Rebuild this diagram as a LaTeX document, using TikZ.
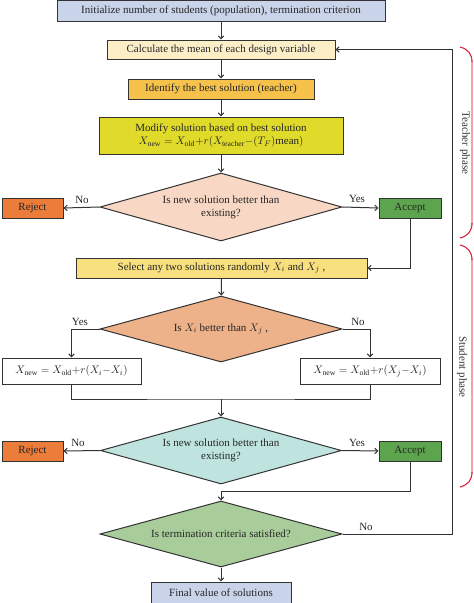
\documentclass[tikz,border=0pt]{standalone}
\usepackage{amsmath}
\usepackage{fontspec}
\setmainfont{Liberation Serif}
\usetikzlibrary{shapes.geometric,arrows.meta}
\definecolor{cinit}{HTML}{C9D4EA}
\definecolor{ccalc}{HTML}{FCEFC8}
\definecolor{cident}{HTML}{F6C24C}
\definecolor{cmod}{HTML}{E0DB2A}
\definecolor{cdone}{HTML}{F8D8C4}
\definecolor{creject}{HTML}{EC7C3A}
\definecolor{caccept}{HTML}{5DA44E}
\definecolor{csel}{HTML}{F9E07E}
\definecolor{cdtwo}{HTML}{EEB28B}
\definecolor{cdthree}{HTML}{BFE4E0}
\definecolor{cdfour}{HTML}{A9CD9A}
\definecolor{cline}{HTML}{333333}
\definecolor{cbrace}{HTML}{D9263F}
\definecolor{cbracel}{HTML}{F3A3B0}
\tikzset{
  box/.style={draw=cline, line width=1pt, inner sep=0pt, font=\fontsize{11}{12}\selectfont, text=black!85},
  dec/.style={diamond, draw=cline, line width=1pt, inner sep=0pt, aspect=3.6, align=center, font=\fontsize{11}{13}\selectfont, text=black!85},
  conn/.style={draw=cline, line width=1pt},
  arr/.style={conn, -{Straight Barb[length=3pt,width=5.5pt]}},
  lbl/.style={font=\fontsize{11}{12}\selectfont, text=black!85, inner sep=0pt},
  phase/.style={font=\fontsize{11}{12}\selectfont, text=black!80, rotate=-90, inner sep=0pt},
  bracecurl/.style={draw=cbrace, line width=1.1pt},
  braceline/.style={draw=cbracel, line width=1.1pt}
}
\begin{document}
\begin{tikzpicture}[x=1pt,y=-1pt]
\useasboundingbox (0,0) rectangle (474,603);
\node[box, fill=cinit, minimum width=328pt, minimum height=20.5pt] (init) at (221,10.75) {Initialize number of students (population), termination criterion};
\node[box, fill=ccalc, minimum width=228pt, minimum height=19pt] (calc) at (221,49.5) {Calculate the mean of each design variable};
\node[box, fill=cident, minimum width=186pt, minimum height=20pt] (ident) at (221,89) {Identify the best solution (teacher)};
\node[box, fill=cmod, minimum width=244pt, minimum height=37pt, align=center] (mod) at (221,135.5) {Modify solution based on best solution\\[1pt] $X_{\text{new}} = X_{\text{old}}{+}r(X_{\text{teacher}}{-}(T_F)\text{mean})$};
\node[dec, fill=cdone, minimum width=242pt, minimum height=68pt] (d1) at (221,207) {Is new solution better than\\ existing?};
\node[box, fill=creject, minimum width=61pt, minimum height=20pt] (rej1) at (32.5,208) {Reject};
\node[box, fill=caccept, minimum width=62pt, minimum height=20pt] (acc1) at (410,208) {Accept};
\node[box, fill=csel, minimum width=291pt, minimum height=20pt] (sel) at (221.5,268) {Select any two solutions randomly $X_i$ and $X_j$ ,};
\node[dec, fill=cdtwo, minimum width=242pt, minimum height=66pt] (d2) at (221,329) {Is $X_i$ better than $X_j$ ,};
\node[box, fill=white, minimum width=139pt, minimum height=26pt] (lbox) at (71.5,371) {$X_{\text{new}} = X_{\text{old}}{+}r(X_i{-}X_i)$};
\node[box, fill=white, minimum width=140pt, minimum height=26pt] (rbox) at (370,371) {$X_{\text{new}} = X_{\text{old}}{+}r(X_j{-}X_i)$};
\coordinate (m1) at (221,399);
\node[dec, fill=cdthree, minimum width=241pt, minimum height=67pt] (d3) at (221,450.5) {Is new solution better than\\ existing?};
\node[box, fill=creject, minimum width=61pt, minimum height=20pt] (rej2) at (32.5,451) {Reject};
\node[box, fill=caccept, minimum width=62pt, minimum height=20pt] (acc2) at (410,451) {Accept};
\coordinate (m2) at (221,491);
\node[dec, fill=cdfour, minimum width=242pt, minimum height=66pt] (d4) at (221,534) {Is termination criteria satisfied?};
\node[box, fill=cinit, minimum width=140pt, minimum height=22pt] (final) at (221,593) {Final value of solutions};
\coordinate (fb) at (452,534);
% connectors
\draw[arr] (init) -- (calc);
\draw[arr] (calc) -- (ident);
\draw[arr] (ident) -- (mod);
\draw[arr] (mod) -- (d1);
\draw[arr] (d1.west) -- (rej1.east);
\draw[arr] (d1.east) -- (acc1.west);
\draw[arr] (acc1.south) |- (sel.east);
\draw[arr] (sel) -- (d2);
\draw[arr] (d2.west) -| (lbox.north);
\draw[arr] (d2.east) -| (rbox.north);
\draw[conn] (lbox.south) |- (m1) -| (rbox.south);
\draw[arr] (m1) -- (d3.north);
\draw[arr] (d3.west) -- (rej2.east);
\draw[arr] (d3.east) -- (acc2.west);
\draw[conn] (acc2.south) |- (m2);
\draw[arr] (m2) -- (d4.north);
\draw[arr] (d4.east) -- (fb) |- (calc.east);
\draw[arr] (d4) -- (final);
% labels
\node[lbl] (l1) at (82,200) {No};
\node[lbl] (l2) at (357,199) {Yes};
\node[lbl] (l3) at (80,322) {Yes};
\node[lbl] (l4) at (358,322) {No};
\node[lbl] (l5) at (78,443) {No};
\node[lbl] (l6) at (357,443) {Yes};
\node[lbl] (l7) at (366,527) {No};
% braces
\draw[braceline] (472,60) -- (472,225);
\draw[bracecurl] (460,47) .. controls (468,49) and (472,54) .. (472,62);
\draw[bracecurl] (472,223) .. controls (472,231) and (468,236) .. (460,238);
\draw[braceline] (472,258) -- (472,474);
\draw[bracecurl] (460,245) .. controls (468,247) and (472,252) .. (472,260);
\draw[bracecurl] (472,472) .. controls (472,480) and (468,485) .. (460,487);
\node[phase] (tp) at (465,143) {Teacher phase};
\node[phase] (sp) at (462,367) {Student phase};
\end{tikzpicture}
\end{document}
